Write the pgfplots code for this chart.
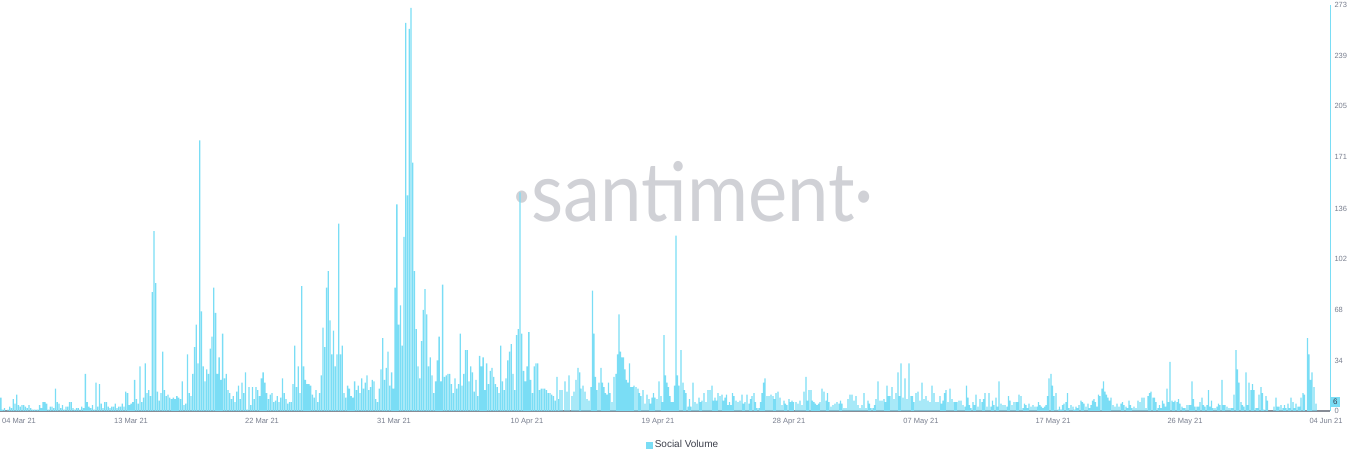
\documentclass[border=0pt]{standalone}
\usepackage{fontspec}
\setmainfont{Liberation Sans}
\newfontfamily\wmfont{Lato}
\usepackage{pgfplots}
\pgfplotsset{compat=1.18}
\definecolor{barc}{RGB}{122,221,245}
\definecolor{basec}{RGB}{135,140,150}
\definecolor{tickc}{RGB}{120,126,142}
\definecolor{legc}{RGB}{60,63,75}
\definecolor{wmc}{RGB}{208,209,214}
\begin{document}
\begin{tikzpicture}
\useasboundingbox (0,0) rectangle (1366pt,462pt);
\node[anchor=base, text=wmc, font=\wmfont\fontsize{82}{90}\selectfont, inner sep=0pt] at (693pt,240pt) {\scalebox{0.905}[1]{·santiment·}};
\begin{axis}[
  at={(0pt,51pt)}, anchor=south west,
  scale only axis, width=1330pt, height=406pt,
  xmin=0, xmax=1330, ymin=0, ymax=273,
  enlargelimits=false,
  axis x line*=bottom, axis y line*=right,
  x axis line style={draw=basec, line width=1.5pt, -},
  y axis line style={draw=barc, line width=0.8pt, -},
  xtick={19,131,262,394,527,658,789,921,1053,1185,1326},
  xticklabels={04 Mar 21,13 Mar 21,22 Mar 21,31 Mar 21,10 Apr 21,19 Apr 21,28 Apr 21,07 May 21,17 May 21,26 May 21,04 Jun 21},
  ytick={0,34,68,102,136,171,205,239,273},
  major tick length=0pt,
  tick label style={font=\fontsize{7.5}{9}\selectfont, text=tickc},
  xticklabel style={anchor=base, yshift=-12.5pt},
  yticklabel style={anchor=west, xshift=1pt},
  /pgf/number format/assume math mode=true,
  legend style={at={(0.5135,-0.0838)}, anchor=center, draw=none, fill=none,
    font=\fontsize{10}{12}\selectfont, text=legc, inner sep=0pt},
  legend image code/.code={\fill[barc] (0pt,-3.5pt) rectangle (7pt,3.5pt);},
  clip=false,
]
\addplot[ybar, bar width=1.3, bar shift=0pt, fill=barc, draw=none]
  table[row sep=\\, header=false, x expr=\coordindex*1.76+0.88, y index=0] {
9\\1\\2\\0\\1\\3\\2\\8\\5\\11\\4\\3\\4\\4\\3\\2\\4\\2\\1\\1\\1\\1\\4\\2\\6\\
6\\5\\1\\3\\3\\2\\15\\6\\5\\2\\4\\1\\3\\3\\6\\6\\2\\1\\2\\2\\1\\3\\2\\25\\6\\
3\\2\\4\\1\\19\\3\\18\\5\\2\\6\\6\\3\\2\\3\\3\\5\\2\\3\\3\\5\\3\\13\\12\\4\\5\\
6\\21\\8\\5\\30\\6\\9\\32\\12\\14\\10\\80\\121\\86\\13\\7\\12\\40\\14\\10\\11\\9\\8\\9\\8\\
10\\9\\8\\20\\4\\5\\38\\12\\10\\25\\43\\58\\32\\182\\67\\30\\20\\28\\25\\42\\50\\83\\66\\25\\36\\
21\\52\\22\\25\\14\\12\\8\\10\\6\\13\\17\\8\\19\\12\\26\\1\\16\\4\\16\\8\\16\\14\\10\\22\\26\\
19\\12\\8\\11\\12\\6\\7\\10\\6\\9\\22\\12\\8\\5\\6\\6\\18\\44\\16\\30\\12\\84\\30\\21\\18\\
18\\17\\11\\9\\14\\6\\12\\24\\56\\43\\83\\94\\61\\38\\54\\30\\38\\126\\38\\44\\12\\9\\17\\15\\10\\
9\\20\\14\\17\\12\\22\\15\\19\\24\\14\\16\\21\\20\\8\\6\\15\\28\\49\\21\\29\\40\\17\\26\\15\\83\\
139\\58\\71\\44\\117\\261\\145\\257\\271\\167\\94\\55\\30\\22\\47\\68\\82\\65\\30\\36\\24\\12\\20\\34\\50\\
20\\85\\23\\24\\25\\25\\18\\12\\22\\15\\18\\52\\17\\25\\41\\41\\20\\30\\26\\13\\21\\10\\37\\30\\36\\
14\\32\\18\\27\\29\\23\\18\\16\\12\\44\\20\\14\\22\\34\\40\\45\\25\\14\\51\\55\\147\\52\\27\\20\\30\\
53\\21\\12\\30\\32\\32\\14\\15\\15\\15\\14\\12\\12\\11\\10\\7\\23\\8\\
};
\addlegendentry{Social Volume}
\addplot[ybar, bar width=1.3, bar shift=0pt, fill=barc, draw=none, forget plot] coordinates {
(560,14)(562,14)(565,20)(567,13)(569,24)(572,10)(574,13)(576,21)(578,29)(579.7,26)(581,15)(583,17)(585,13)(587,8)(589,7)(591,16)(592.5,81)(594,52)(595.5,23)(597,14)(599,19)(601,29)(602.5,19)(604,16)(605.5,12)(607,11)(608.5,19)(610,12)(612,6)(614,23)(616,25)(617.5,38)(619,65)(620.5,40)(622,36)(623.5,36)(625,28)(626.5,21)(628,19)(629.5,32)(631,16)(632.5,16)(634,17)(636,16)(638,15)(639.5,12)(641,10)(643,14)(645,5)(647,11)(649,8)(650.5,5)(652,9)(653.5,12)(655,9)(657,8)(659,20)(661,10)(662.5,6)(664,51)(665.5,24)(667,19)(668.5,16)(670,10)(671.5,6)(673,6)(674.5,17)(676,118)(677.5,24)(679,17)(681,41)(683,19)(684.5,14)(686,12)(688,3)(689.5,8)(691,3)(693,19)(695,6)(697,5)(699,9)(700.5,6)(702,7)(704,12)(706,6)(708,14)(710,14)(712,17)(713.5,7)(715,9)(716.5,7)(718,12)(720,10)(722,11)(723.5,7)(725,9)(726.5,11)(728,4)(729.5,6)(731,4)(732.5,12)(734,10)(736,7)(738,6)(740,7)(742,11)(743.5,5)(745,6)(747,11)(749,5)(750.5,8)(752,10)(754,12)(755.5,6)(757,2)(759,2)(760.5,6)(762,12)(763.5,19)(765,22)(767,10)(769,10)(771,11)(773,10)(774.5,8)(776,12)(778,13)(780,9)(782,4)(784,7)(785.5,5)(787,4)(789,8)(790.5,6)(792,7)(793.5,6)(796,6)(798,5)(800,7)(802,4)(804,13)(806,23)(807.5,7)(809,14)(811,14)(812.5,7)(814,6)(815.5,5)(817,4)(818.5,5)(820,6)(822,15)(824,13)(826,7)(827.5,12)(829,6)(831,3)(833,4)(835,5)(837,6)(839,5)(840.5,7)(842,5)(844,2)(846,2)(848,8)(850,11)(852,11)(854,7)(856,10)(858,4)(860,2)(862,4)(864,12)(866,2)(868,7)(869.5,5)(871,2)(873,2)(874.5,4)(876,8)(878,20)(880,7)(882,7)(884,8)(885.5,6)(887,17)(888.5,10)(890,10)(892,16)(894,8)(896,12)(898,26)(899.5,10)(901,32)(903,9)(905,22)(907,8)(909,32)(911,10)(912.5,10)(914,6)(916,12)(918,13)(920,7)(922,19)(924,8)(926,10)(928,7)(930,6)(932,17)(934,12)(936,6)(938,6)(940,10)(941.5,5)(943,7)(944.5,12)(946,14)(948,6)(950,15)(952,8)(954,6)(955.5,6)(957,6)
(959,7)(961,7)(963,4)(965,3)(966.5,17)(968,9)(969.5,4)(971,2)(973,6)(974.5,4)(976,11)(978,3)(980,8)(982,6)(983.5,8)(985,12)(987,3)(989,12)(991,3)(992.5,7)(994,4)(996,9)(997.5,3)(999,20)(1001,5)(1003,4)(1005,4)(1007,3)(1008.5,10)(1010,7)(1012,4)(1014,6)(1016,6)(1017.5,6)(1019,11)(1021,10)(1023,2)(1024.5,5)(1026,4)(1027.5,2)(1029,5)(1031,3)(1033,4)(1035,3)(1037,3)(1038.5,6)(1040,4)(1041.5,3)(1043,2)(1044.5,3)(1046,4)(1047.5,10)(1049,22)(1051,25)(1052.5,17)(1054,10)(1056,12)(1058,1)(1059.5,3)(1061,1)(1062.5,4)(1064,5)(1066,6)(1067.5,12)(1069,2)(1071,4)(1073,3)(1074.5,1)(1076,3)(1077.5,2)(1079,4)(1081,7)(1082.5,6)(1084,5)(1086,3)(1088,5)(1089.5,2)(1091,4)(1092.5,7)(1094,8)(1095.5,6)(1097,3)(1098.5,11)(1100,10)(1102,15)(1103.5,20)(1105,13)(1106.5,11)(1108,9)(1109.5,7)(1111,9)(1113,4)(1115,3)(1117,5)(1119,3)(1121,5)(1122.5,6)(1124,4)(1126,3)(1127.5,2)(1129,7)(1130.5,4)(1132,2)(1134,3)(1136,2)(1138,7)(1140,6)(1142,9)(1144,9)(1146,2)(1148,10)(1149.5,12)(1151,13)(1153,9)(1154.5,9)(1156,6)(1158,2)(1159.5,4)(1161,2)(1162.5,7)(1164,5)(1165.5,3)(1167,15)(1168.5,6)(1170,33)(1172,7)(1173.5,6)(1175,7)(1177,6)(1178.5,8)(1180,5)(1182,3)(1183.5,2)(1185,2)(1187,4)(1189,4)(1190.5,4)(1192,20)(1193.5,8)(1195,3)(1197,3)(1198.5,3)(1200,6)(1202,9)(1203.5,4)(1205,3)(1207,4)(1208.5,14)(1210,3)(1211.5,7)(1213,2)(1215,2)(1217,3)(1218.5,5)(1220,4)(1222,21)(1223.5,4)(1225,4)(1227,3)(1229,2)(1231,2)(1232.5,2)(1234,11)(1236,41)(1237.5,28)(1239,19)(1241,6)(1242.5,4)(1244,3)(1246,26)(1247.5,4)(1249,19)(1251,14)(1252.5,18)(1254,14)(1256,2)(1257.5,2)(1259,11)(1261,16)(1262.5,12)(1264,1)(1266,10)(1267.5,7)(1274,3)(1276,9)(1277.5,3)(1279,3)(1281,4)(1283,2)(1284.5,4)(1286,2)(1288,5)(1289.5,2)(1291,9)(1293,6)(1294.5,2)(1296,5)(1298,3)(1299.5,3)(1301,9)(1303,12)(1304.5,11)(1307.5,49)(1309,38)(1310.5,21)(1312,26)(1314,16)(1316,5)
};
\node[anchor=west, fill=barc, text=legc, font=\fontsize{8}{9}\selectfont, inner sep=1.8pt, minimum width=8.5pt] at (axis cs:1331,6) {6};
\end{axis}
\end{tikzpicture}
\end{document}
